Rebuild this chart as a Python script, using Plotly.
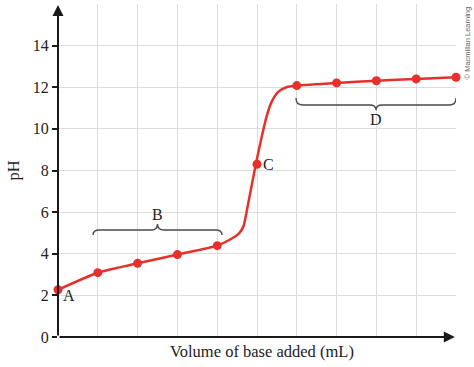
import plotly.graph_objects as go

# ---- data ----
vol_pts = [0, 1, 2, 3, 4, 5, 6, 7, 8, 9, 10]
ph_pts = [2.27, 3.09, 3.54, 3.96, 4.39, 8.30, 12.08, 12.21, 12.31, 12.40, 12.48]

curve_vol = [0, 1, 2, 3, 4, 4.3, 4.55, 4.66, 4.78, 4.97, 5.12, 5.24, 5.37, 5.54, 5.74, 6, 7, 8, 9, 10]
curve_ph = [2.27, 3.09, 3.54, 3.96, 4.39, 4.66, 4.98, 5.32, 6.43, 8.30, 9.63, 10.59, 11.31, 11.79, 12.0, 12.08, 12.21, 12.31, 12.40, 12.48]

point_labels = ["A", "B", "C", "D"]
label_vol = [0.27, 2.5, 5.29, 8.0]
label_ph = [2.0, 5.91, 8.28, 10.43]

# braces: (x start, x end, y of ends, y of bar, y of tip)
brace_B = (0.88, 4.12, 4.90, 5.14, 5.43)
brace_D = (5.98, 10.0, 11.48, 11.15, 10.91)

y_ticks = [0, 2, 4, 6, 8, 10, 12, 14]
x_grid = [1, 2, 3, 4, 5, 6, 7, 8, 9, 10]

RED = "#e5302c"
SERIF = "Liberation Serif, Times New Roman, serif"

fig = go.Figure()

fig.add_trace(go.Scatter(x=curve_vol, y=curve_ph, mode="lines",
                         line=dict(color=RED, width=2.5, shape="spline", smoothing=0.6),
                         hoverinfo="skip", showlegend=False, cliponaxis=False))
fig.add_trace(go.Scatter(x=vol_pts, y=ph_pts, mode="markers",
                         marker=dict(color=RED, size=9),
                         showlegend=False, cliponaxis=False))


def brace_path(x0, x1, ye, yb, yt, dx=0.16):
    xc = (x0 + x1) / 2
    return (f"M {x0},{ye} Q {x0},{yb} {x0+dx},{yb} L {xc-dx},{yb} "
            f"Q {xc},{yb} {xc},{yt} Q {xc},{yb} {xc+dx},{yb} "
            f"L {x1-dx},{yb} Q {x1},{yb} {x1},{ye}")


shapes = []
for b in (brace_B, brace_D):
    shapes.append(dict(type="path", xref="x", yref="y", path=brace_path(*b),
                       line=dict(color="#4a4a4a", width=1.4)))

annotations = []
# axis arrows
annotations.append(dict(x=0, y=15.95, ax=0, ay=0, xref="x", yref="y", axref="x", ayref="y",
                        text="", showarrow=True, arrowhead=2, arrowsize=1.1, arrowwidth=2,
                        arrowcolor="#1a1a1a", standoff=0))
annotations.append(dict(x=9.97, y=0, ax=0, ay=0, xref="x", yref="y", axref="x", ayref="y",
                        text="", showarrow=True, arrowhead=2, arrowsize=1.1, arrowwidth=2,
                        arrowcolor="#1a1a1a", standoff=0))
for t, xv, yv in zip(point_labels, label_vol, label_ph):
    annotations.append(dict(x=xv, y=yv, xref="x", yref="y", text=t, showarrow=False,
                            font=dict(family=SERIF, size=16, color="#222")))
annotations.append(dict(x=0.512, y=-0.045, xref="paper", yref="paper", yanchor="middle",
                        text="Volume of base added (mL)", showarrow=False,
                        font=dict(family=SERIF, size=16.5, color="#222")))
annotations.append(dict(x=-0.113, y=0.5, xref="paper", yref="paper", xanchor="center",
                        text="pH", textangle=-90, showarrow=False,
                        font=dict(family=SERIF, size=16.5, color="#222")))
annotations.append(dict(x=1.03, y=1.0, xref="paper", yref="paper", xanchor="center",
                        yanchor="top", text="© Macmillan Learning", textangle=-90,
                        showarrow=False,
                        font=dict(family="Liberation Sans, Arial, sans-serif", size=7.5,
                                  color="#666")))

fig.update_layout(
    width=474, height=367,
    margin=dict(l=58, r=18, t=4, b=30),
    paper_bgcolor="white", plot_bgcolor="white",
    shapes=shapes, annotations=annotations,
    xaxis=dict(range=[0, 10], tickvals=x_grid, showticklabels=False, ticks="",
               showgrid=True, gridcolor="#dcdcdc", gridwidth=1, zeroline=False,
               showline=False, fixedrange=True, automargin=False),
    yaxis=dict(range=[0, 16], tickvals=y_ticks, ticktext=[str(v) for v in y_ticks],
               ticks="outside", ticklen=5, tickwidth=1.5, tickcolor="#1a1a1a",
               tickfont=dict(family=SERIF, size=16, color="#222"),
               showgrid=True, gridcolor="#dcdcdc", gridwidth=1, zeroline=False,
               showline=False, fixedrange=True, automargin=False),
)

fig.write_html("out.html", config={"displayModeBar": False},
               post_script="document.body.style.margin='0px';document.body.style.overflow='hidden';")
